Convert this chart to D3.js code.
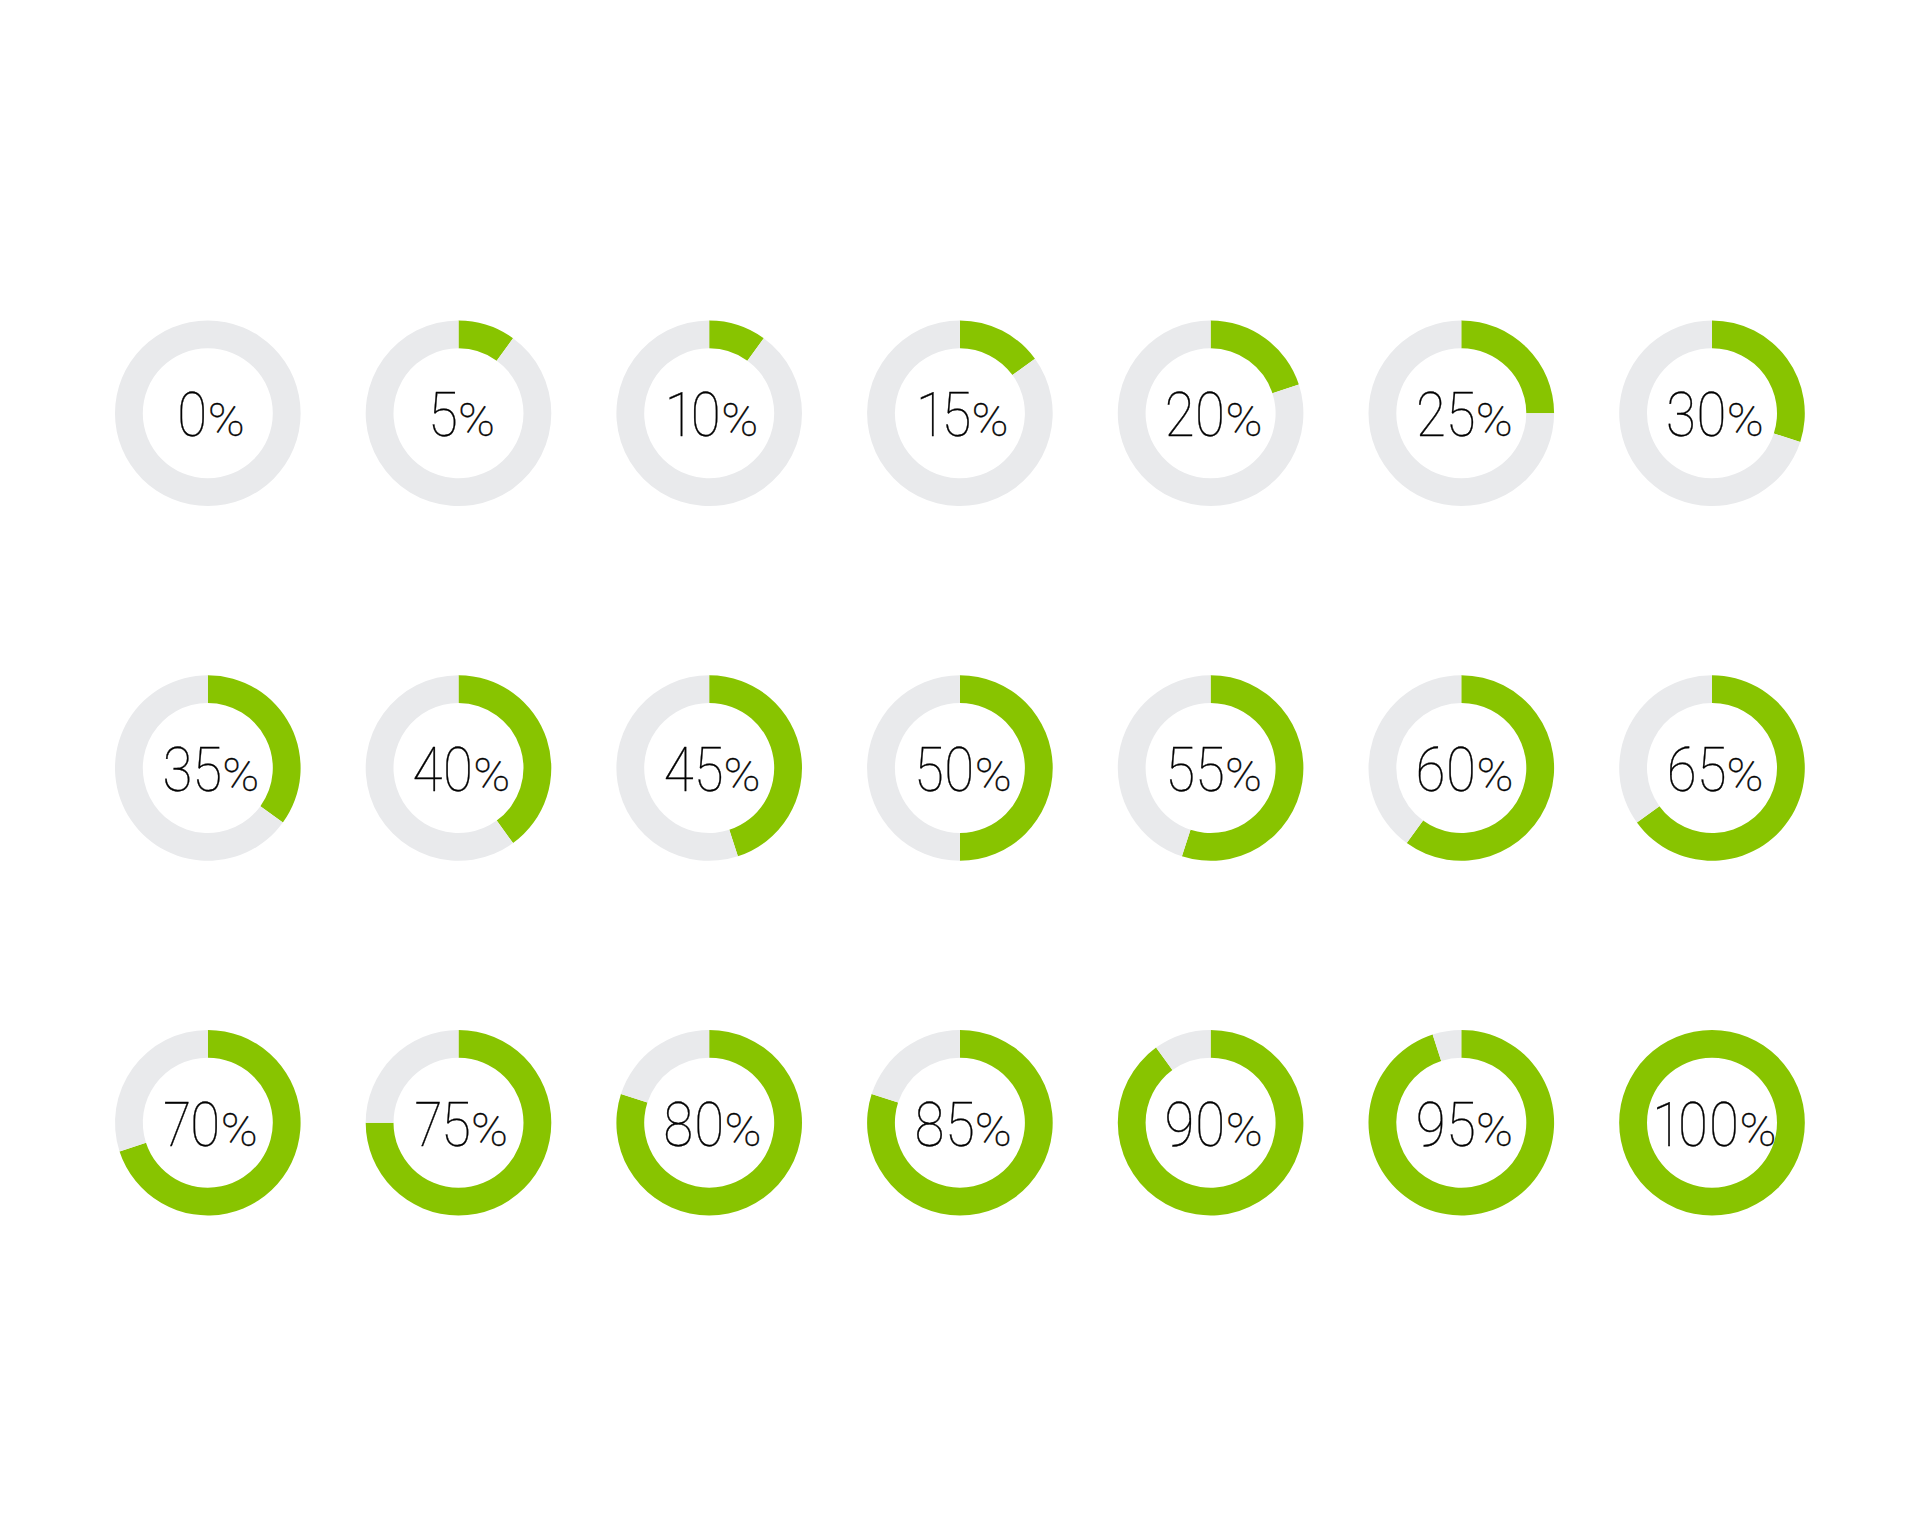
<!DOCTYPE html>
<html lang="en">
<head>
    <meta charset="UTF-8">
    <title>Percentage donuts</title>
    <script src="https://d3js.org/d3.v7.min.js"></script>
    <style>
        html, body { margin: 0; padding: 0; background: #fff; }
        svg { display: block; }
        text { font-family: 'Roboto', sans-serif; font-weight: 100; fill: #000; stroke: #000; stroke-width: 0.35px; }
        .num { font-size: 62px; font-variant-numeric: proportional-nums; }
        .pct { font-size: 46px; }
        .label { opacity: 0.99; }
    </style>
</head>
<body>
    <div id="chart"></div>
    <script>
        // printed labels, left to right, top to bottom
        const labels = [0, 5, 10, 15, 20, 25, 30, 35, 40, 45, 50, 55, 60, 65, 70, 75, 80, 85, 90, 95, 100];
        // green share actually drawn; the 5% and 85% rings don't match their labels in the picture
        const filled = [0, 10, 10, 15, 20, 25, 30, 35, 40, 45, 50, 55, 60, 65, 70, 75, 80, 80, 90, 95, 100];
        const columns = [0, 1, 2, 3, 4, 5, 6];
        const rows = [0, 1, 2];

        const width = 1920, height = 1536;
        const outerR = 92.8, innerR = 65;
        const numSquash = 0.88, pctStretch = 1.08, gap = 0;

        const svg = d3.select("#chart").append("svg")
            .attr("width", width)
            .attr("height", height);

        const x = d3.scalePoint().domain(columns).range([207.8, 1712]);
        const y = d3.scalePoint().domain(rows).range([413.3, 1122.7]);

        const pie = d3.pie().sort(null);
        const arc = d3.arc().innerRadius(innerR).outerRadius(outerR);

        const donut = svg.selectAll("g.donut")
            .data(filled)
            .join("g")
            .attr("class", "donut")
            .attr("transform", (d, i) => `translate(${x(i % columns.length)},${y(Math.floor(i / columns.length))})`);

        donut.selectAll("path")
            .data(d => pie([d, 100 - d]))
            .join("path")
            .attr("d", arc)
            .attr("fill", (d, i) => i === 0 ? "#88c400" : "#e9eaec");

        donut.each(function (d, i) {
            const g = d3.select(this).append("g").attr("class", "label");
            const num = g.append("text").attr("class", "num").text(labels[i]);
            const pct = g.append("text").attr("class", "pct").text("%");

            // digits are narrow and the percent sign wide, so centre the pair by hand
            const numW = num.node().getComputedTextLength() * numSquash;
            const pctW = pct.node().getComputedTextLength() * pctStretch;
            const left = 3 - (numW + gap + pctW) / 2;
            num.attr("transform", `translate(${left},23) scale(${numSquash},1)`);
            pct.attr("transform", `translate(${left + numW + gap},23) scale(${pctStretch},1)`);
        });
    </script>
</body>
</html>
